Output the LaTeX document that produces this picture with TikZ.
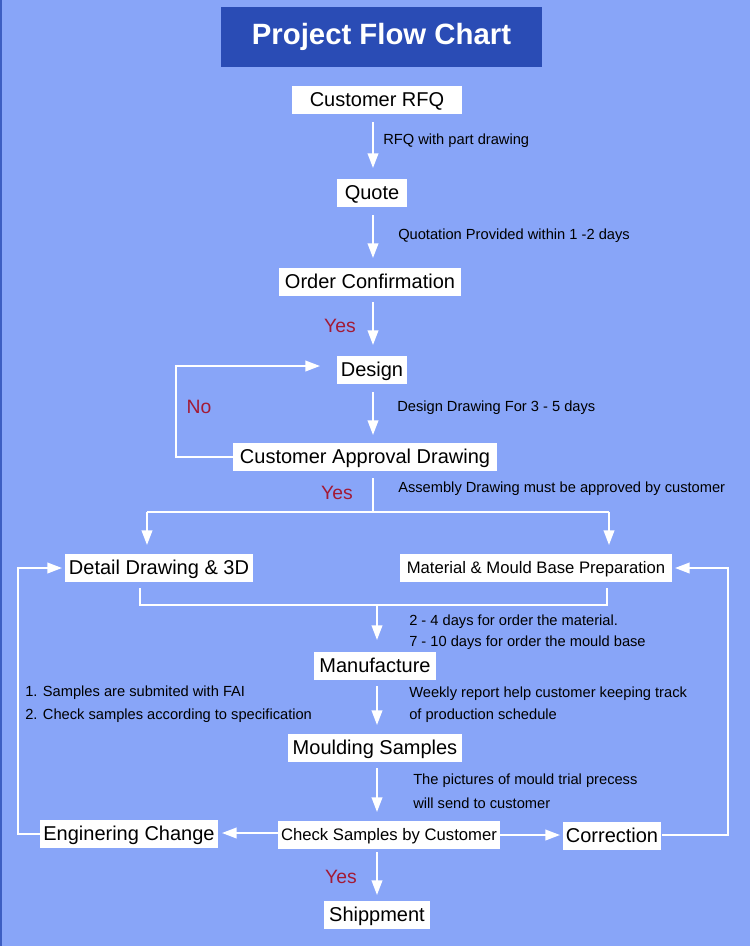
\documentclass[tikz,border=0pt]{standalone}
\usepackage{fontspec}
\setmainfont{Liberation Sans}
\usetikzlibrary{arrows.meta}
\definecolor{bg}{HTML}{88A5F8}
\definecolor{ttl}{HTML}{2A4CB5}
\definecolor{yesc}{HTML}{A31A35}
\begin{document}
\begin{tikzpicture}[x=0.75pt,y=-0.75pt,
 box/.style={fill=white,inner sep=0pt,minimum height=20.5pt,text depth=1pt,font=\fontsize{15}{17}\selectfont},
 note/.style={anchor=west,inner sep=0pt,font=\fontsize{11}{13}\selectfont},
 yes/.style={text=yesc,inner sep=0pt,font=\fontsize{14.5}{16}\selectfont},
 ar/.style={draw=white,line width=1.3pt,-{Triangle[width=8pt,length=11pt]}},
 ln/.style={draw=white,line width=1.3pt}]
\fill[bg] (0,0) rectangle (750,946);
\fill[ttl!80!bg] (0,0) rectangle (2,946);
\useasboundingbox (0,0) rectangle (750,946);
\node[fill=ttl,minimum width=241pt,minimum height=45pt,text=white,font=\fontsize{22}{26}\selectfont\bfseries] (title) at (381.5,37) {Project Flow Chart};
\node[box,minimum width=128pt] (rfq) at (377,100) {Customer RFQ};
\node[box,minimum width=53pt] (quote) at (372,193) {Quote};
\node[box,minimum width=136pt] (order) at (370,282) {Order Confirmation};
\node[box,minimum width=53pt] (design) at (372,370) {Design};
\node[box,minimum width=198pt] (cad) at (365,457) {Customer Approval Drawing};
\node[box,minimum width=141pt] (detail) at (159,568) {Detail Drawing \& 3D};
\node[box,minimum width=204pt,font=\fontsize{12.5}{14}\selectfont] (mat) at (536,568) {Material \& Mould Base Preparation};
\node[box,minimum width=91pt] (manu) at (375,666) {Manufacture};
\node[box,minimum width=130pt] (mould) at (375,748) {Moulding Samples};
\node[box,minimum width=133pt] (eng) at (129,834) {Enginering Change};
\node[box,minimum width=166pt,font=\fontsize{12.5}{14}\selectfont] (check) at (389,835) {Check Samples by Customer};
\node[box,minimum width=74pt] (corr) at (612,836) {Correction};
\node[box,minimum width=79pt] (ship) at (377,915) {Shippment};

\draw[ar] (373,122) -- (373,168);
\draw[ar] (373,215) -- (373,258);
\draw[ar] (373,302) -- (373,345);
\draw[ar] (373,392) -- (373,435);
\draw[ar] (cad.west) -| (176,366) -- (320,366);
\draw[ln] (373,478) -- (373,512);
\draw[ln] (147,512) -- (609,512);
\draw[ar] (147,512) -- (147,545);
\draw[ar] (609,512) -- (609,545);
\draw[ln] (140,588) |- (607,605) -- (607,588);
\draw[ar] (377,605) -- (377,640);
\draw[ar] (377,686) -- (377,725);
\draw[ar] (377,768) -- (377,812);
\draw[ar] (377,852) -- (377,895);
\draw[ar] (check.west |- 0,833) -- (222,833);
\draw[ar] (check.east |- 0,835) -- (560,835);
\draw[ar] (eng.west) -| (18,568) -- (62,568);
\draw[ar] (corr.east |- 0,835) -| (728,568) -- (675,568);

\node[yes] (y1) at (340,326) {Yes};
\node[yes] (y2) at (337,493) {Yes};
\node[yes] (y3) at (341,877) {Yes};
\node[yes] (no) at (199,407) {No};

\node[note] (n1) at (383,141) {RFQ with part drawing};
\node[note] (n2) at (398,236) {Quotation Provided within 1 -2 days};
\node[note] (n3) at (397,408) {Design Drawing For 3 - 5 days};
\node[note] (n4) at (398,489) {Assembly Drawing must be approved by customer};
\node[note] (n5) at (409,622) {2 - 4 days for order the material.};
\node[note] (n6) at (409,643) {7 - 10 days for order the mould base};
\node[note] (n7) at (25,693) {1. Samples are submited with FAI};
\node[note] (n8) at (25,716) {2. Check samples according to specification};
\node[note] (n9) at (409,694) {Weekly report help customer keeping track};
\node[note] (n10) at (409,716) {of production schedule};
\node[note] (n11) at (413,781) {The pictures of mould trial precess};
\node[note] (n12) at (413,803) {will send to customer};
\end{tikzpicture}
\end{document}
